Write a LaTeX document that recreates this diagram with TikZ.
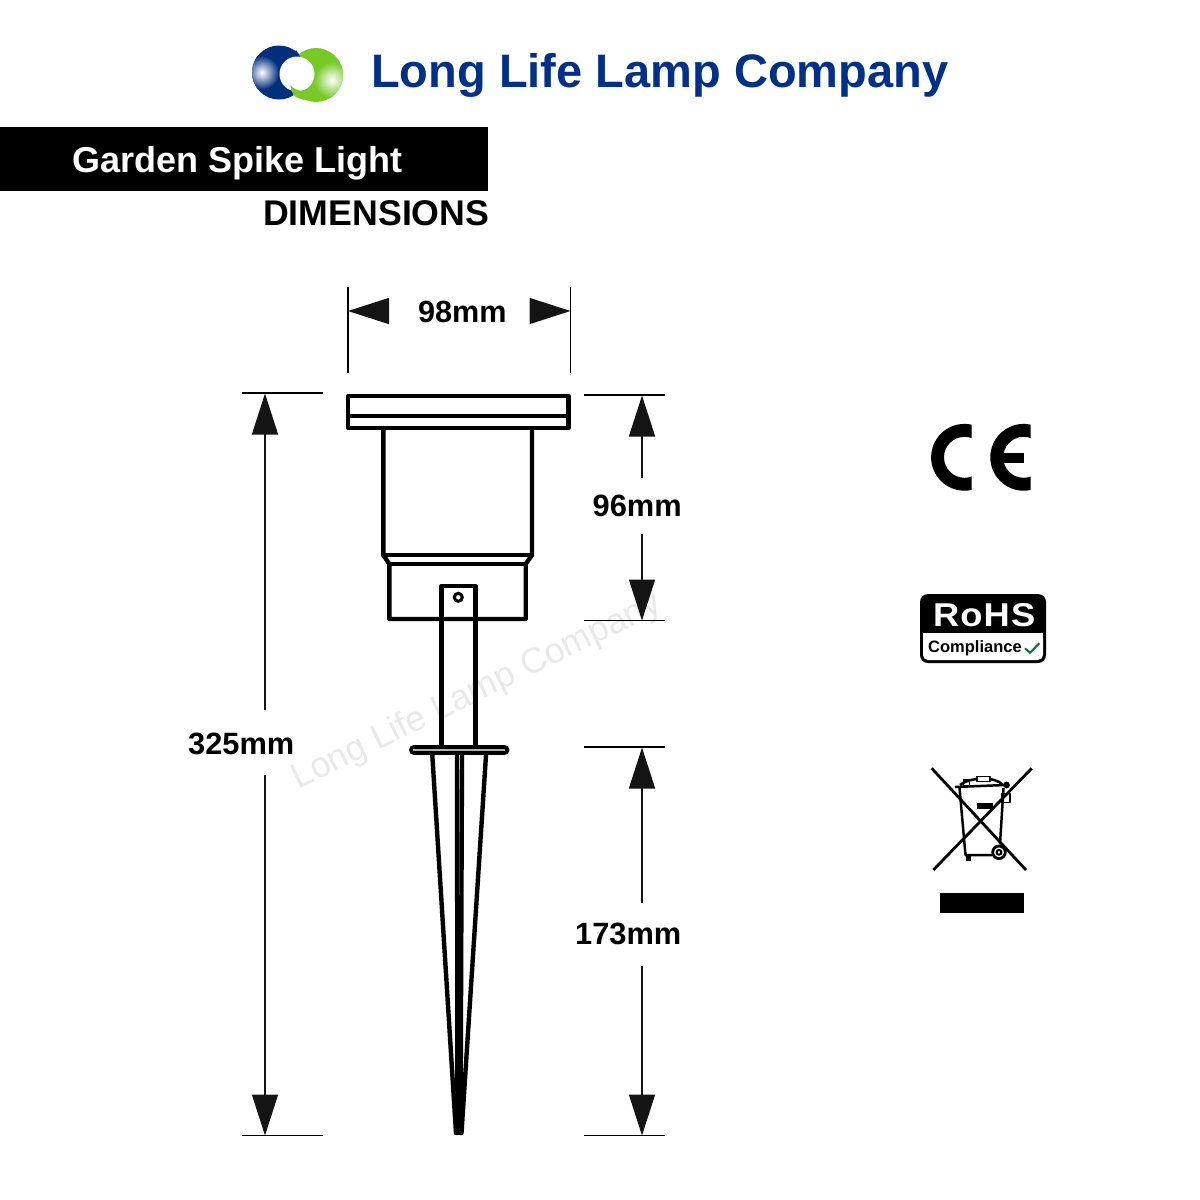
\documentclass[tikz,border=0pt]{standalone}
\usepackage{graphicx}
\usepackage{fontspec}
\setmainfont{Liberation Sans}
\usetikzlibrary{arrows.meta,calc}
\definecolor{brandblue}{RGB}{0,48,135}
\definecolor{logoblue}{RGB}{2,46,128}
\definecolor{logogreen}{RGB}{120,200,40}
\definecolor{wm}{RGB}{233,233,233}
\definecolor{tickgreen}{RGB}{20,110,50}
\tikzset{
  lbl/.style={inner sep=0pt,anchor=base west,font=\bfseries\fontsize{#1}{#1}\selectfont},
  ext/.style={line width=1.6pt,black},
  dimline/.style={line width=1.6pt,black!92,-{Triangle[length=41pt,width=26pt]}},
  lamp/.style={line width=4.4pt,black,line cap=round,line join=round},
  weee/.style={line width=2.5pt,black,line join=round}
}
\begin{document}
\begin{tikzpicture}[x=1pt,y=-1pt]
\useasboundingbox (0,0) rectangle (1200,1200);
\fill[white] (0,0) rectangle (1200,1200);
% logo
\fill[logoblue] (279,72.5) circle (27);
\begin{scope}
\clip (279,72.5) circle (27);
\shade[inner color=white,outer color=logoblue] (262,72.5) circle (17);
\end{scope}
\fill[logogreen] (316,75) circle (27);
\begin{scope}
\clip (316,75) circle (27);
\shade[inner color=white,outer color=logogreen] (332,80) circle (18);
\end{scope}
\fill[logoblue] (296,50) -- (303.5,62) -- (290,62) -- cycle;
\fill[white] (297,74) circle (17.5);
\fill[logogreen] (290.5,85) .. controls (296,92) and (304,92) .. (310,88) -- (304,100) -- (296,97) .. controls (292,94) and (291,90) .. (290.5,85) -- cycle;
\node[lbl=47,text=brandblue] (title) at (371,87) {Long Life Lamp Company};
% header
\fill[black] (0,127) rectangle (488,191);
\node[lbl=36,text=white] (product) at (72,172.5) {Garden Spike Light};
\node[lbl=35.7] (dimhead) at (263,225.5) {DIMENSIONS};
% watermark
\node[inner sep=0pt,rotate=26,text=wm,font=\fontsize{35.5}{35.5}\selectfont] (mark) at (477,692) {Long Life Lamp Company};
% lamp
\draw[lamp] (348,396) rectangle (568.5,428);
\draw[lamp] (348,416) -- (568.5,416);
\draw[lamp] (383.3,428) -- (383.3,555) -- (389.3,564) -- (389.3,619) -- (525.7,619) -- (525.7,564) -- (532,555) -- (532,428);
\draw[lamp] (383.3,555) -- (532,555);
\draw[lamp] (389.3,564) -- (525.7,564);
\draw[lamp] (441.5,746) -- (441.5,586) -- (475.3,586) -- (475.3,746);
\draw[line width=3pt,black] (458.3,597.3) circle (4);
\draw[black,line width=10pt,line cap=round] (414,750) -- (504.5,750);
\draw[gray!60,line width=1.4pt] (413,750) -- (505,750);
\draw[lamp] (432.3,755) -- (456,1133);
\draw[lamp] (486,755) -- (461.5,1133);
\draw[lamp] (457,755) -- (457.5,1133);
\draw[lamp] (462,755) -- (460.5,1133);
% dimensions
\draw[ext] (348,287) -- (348,373);
\draw[ext] (570.5,287) -- (570.5,373);
\coordinate (w1) at (388,311);
\coordinate (w1t) at (348,311);
\coordinate (w2) at (531,311);
\coordinate (w2t) at (570.5,311);
\draw[dimline] (w1) -- (w1t);
\draw[dimline] (w2) -- (w2t);
\node[lbl=30.6] (d98) at (418,322) {98mm};

\draw[ext] (242,393) -- (323,393);
\draw[ext] (242,1135.5) -- (323,1135.5);
\coordinate (a1) at (265,710);
\coordinate (a1t) at (265,393.5);
\coordinate (a2) at (265,775);
\coordinate (a2t) at (265,1135.5);
\draw[dimline] (a1) -- (a1t);
\draw[dimline] (a2) -- (a2t);
\node[lbl=30.8] (d325) at (188,754.5) {325mm};

\draw[ext] (584,395) -- (665,395);
\draw[ext] (584,620.5) -- (665,620.5);
\coordinate (b1) at (642,478);
\coordinate (b1t) at (642,395.5);
\coordinate (b2) at (642,534);
\coordinate (b2t) at (642,620.5);
\draw[dimline] (b1) -- (b1t);
\draw[dimline] (b2) -- (b2t);
\node[lbl=30.8] (d96) at (592.5,516) {96mm};

\draw[ext] (584,747) -- (665,747);
\draw[ext] (584,1135.5) -- (665,1135.5);
\coordinate (c1) at (642,903);
\coordinate (c1t) at (642,747.5);
\coordinate (c2) at (642,966);
\coordinate (c2t) at (642,1135.5);
\draw[dimline] (c1) -- (c1t);
\draw[dimline] (c2) -- (c2t);
\node[lbl=30.8] (d173) at (575,944) {173mm};
% CE
\begin{scope}
\clip (925,420) rectangle (971.7,495);
\fill[black,even odd rule] (964.5,457.3) circle (33.4) (964.5,457.3) circle (20.5);
\end{scope}
\begin{scope}
\clip (985,420) rectangle (1030.7,495);
\fill[black,even odd rule] (1023.7,457.3) circle (33.4) (1023.7,457.3) circle (20.5);
\end{scope}
\fill[black] (998,452.5) rectangle (1023.5,463);
% RoHS
\fill[black,rounded corners=8pt] (920,594) rectangle (1046,663);
\fill[white,rounded corners=5pt] (923,633) -- (1043,633) -- (1043,660) -- (923,660) -- cycle;
\fill[white] (923,633) rectangle (1043,640);
\node[lbl=33,text=white] (rohs) at (933,626.5) {\scalebox{1.1}[1]{\addfontfeature{LetterSpace=3}RoHS}};
\node[lbl=16.5] (comp) at (928,652.7) {Compliance};
\draw[tickgreen,line width=2pt] (1025,648.3) -- (1030,652.7) -- (1039.3,643.3);
% WEEE
\draw[line width=2.8pt,black] (931.7,768.3) -- (1026,870);
\draw[line width=2.8pt,black] (1031.7,768.3) -- (933.3,870);
\draw[weee] (959.5,788) -- (965.5,855) -- (992,855);
\draw[weee] (1003.5,788) -- (1000,844);
\draw[weee] (955,787) -- (1005,785);
\draw[weee] (960,785) .. controls (970,777) and (995,776) .. (1003,785);
\draw[weee,fill=white,line width=1.8pt] (977.3,776.5) rectangle (990,781.5);
\draw[weee,line width=1.8pt] (963.5,780) rectangle (969.5,786);
\fill[black] (1006.5,785) circle (3.4);
\draw[weee,line width=1.8pt] (1001.5,793.5) rectangle (1010,802.5);
\fill[black] (976.7,803.3) rectangle (993.3,809);
\draw[line width=2.8pt,black,fill=white] (999,852.3) circle (6.3);
\draw[line width=2pt,black] (999,852.3) circle (2.4);
\fill[black] (966,856) rectangle (970.7,861);
\fill[black] (940,892.7) rectangle (1023.5,912.7);
\end{tikzpicture}
\end{document}
